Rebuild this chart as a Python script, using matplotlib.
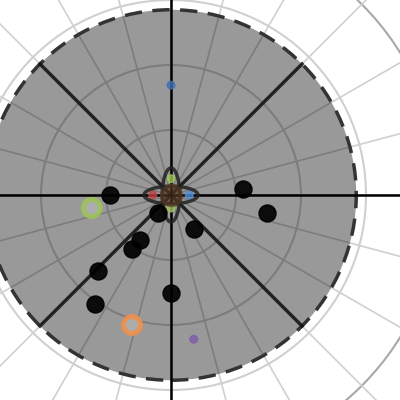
import numpy as np
import matplotlib
matplotlib.use("Agg")
import matplotlib.pyplot as plt
from matplotlib.patches import Circle, Ellipse

grid_radii = [1, 2, 3]
outer_radius = 4.15
spoke_angles = np.arange(0, 360, 15)
disk_radius = 2.85
black_x = [-0.94, 1.11, 1.48, -0.2, 0.35, -0.48, -0.6, -1.12, -1.17, 0.0]
black_y = [0.0, 0.09, -0.28, -0.28, -0.52, -0.69, -0.83, -1.17, -1.68, -1.51]
ring_x = [-1.22, -0.6]
ring_y = [-0.2, -2.0]
ring_colors = ["#9dc35a", "#f0914a"]
small_x = [0.0, 0.35, -0.28, 0.28, 0.0, 0.0]
small_y = [1.69, -2.22, 0.0, 0.0, 0.25, -0.2]
small_colors = ["#3f6fb5", "#7d5ca8", "#c04040", "#4f8fd5", "#9dc35a", "#9dc35a"]

fig = plt.figure(figsize=(4, 4), dpi=100)
ax = fig.add_axes([0, 0, 1, 1])
ax.set_xlim(-171/65, 229/65)
ax.set_ylim(-205/65, 195/65)
ax.set_aspect("equal")
ax.axis("off")

for r in grid_radii:
    ax.add_patch(Circle((0, 0), r, fill=False, ec="#d0d0d0", lw=1.5, zorder=1))
ax.add_patch(Circle((0, 0), outer_radius, fill=False, ec="#a8a8a8", lw=1.5, zorder=1))
for a in spoke_angles:
    t = np.deg2rad(a)
    ax.plot([0, 6*np.cos(t)], [0, 6*np.sin(t)], color="#d0d0d0", lw=1.2, zorder=1)

ax.add_patch(Circle((0, 0), disk_radius, fc=(0, 0, 0, 0.4), ec="#333333", lw=2.5,
                    ls=(0, (5, 3)), zorder=2))
for a in [45, 135, 225, 315]:
    t = np.deg2rad(a)
    ax.plot([0, disk_radius*np.cos(t)], [0, disk_radius*np.sin(t)], color="#111111", lw=2.5, alpha=0.85, zorder=3)
ax.axhline(0, color="black", lw=1.8, zorder=3)
ax.axvline(0, color="black", lw=1.8, zorder=3)

ax.scatter(small_x, small_y, s=30, c=small_colors, alpha=0.8, zorder=4)
ax.scatter(ring_x, ring_y, s=150, facecolors="#b0b0b0", edgecolors=ring_colors, linewidths=3.5, alpha=0.9, zorder=4)
ax.add_patch(Ellipse((0, 0), 0.83, 0.27, fill=False, ec="#222222", lw=2.5, alpha=0.85, zorder=5))
ax.add_patch(Ellipse((0, 0), 0.27, 0.83, fill=False, ec="#222222", lw=2.5, alpha=0.85, zorder=5))
ax.scatter([0], [0], s=250, c="#5a3a20", alpha=0.6, zorder=5)
ax.scatter(black_x, black_y, s=150, c="black", alpha=0.92, zorder=6)

fig.savefig("out.png", dpi=100)
